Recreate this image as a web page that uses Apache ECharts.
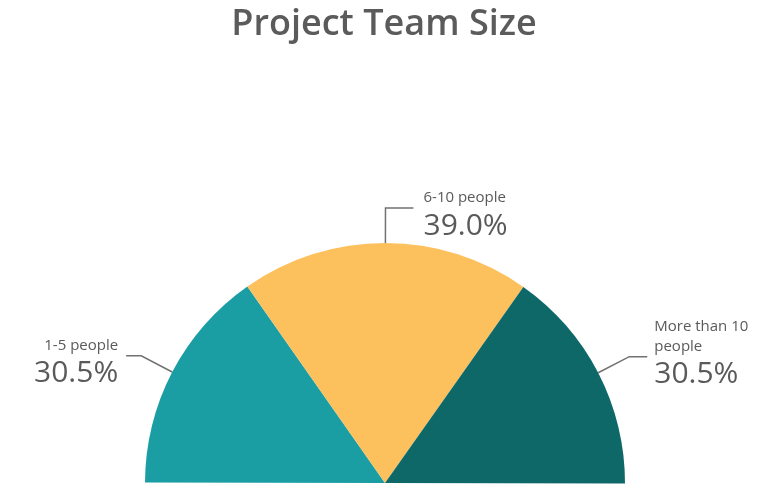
<!DOCTYPE html>
<html>
<head>
<meta charset="utf-8">
<script src="https://cdn.jsdelivr.net/npm/echarts@6/dist/echarts.min.js"></script>
<style>
  html, body { margin: 0; padding: 0; background: #fff; }
  #chart { width: 768px; height: 500px; }
</style>
</head>
<body>
<div id="chart"></div>
<script>
// data
var categories = ['1-5 people', '6-10 people', 'More than 10\npeople'];
var shares = [30.5, 39.0, 30.5];
var colors = ['#1a9ea4', '#fcc15d', '#0e6868'];
var lineTail = [15, 28, 18];   // horizontal part of each label line
var textGap = [8, 10, 7];

var NAME_LH = 20, VALUE_LH = 36;

var chart = echarts.init(document.getElementById('chart'));

var items = [];
for (var i = 0; i < categories.length; i++) {
    var nLines = categories[i].split('\n').length;
    items.push({
        name: categories[i],
        value: shares[i],
        itemStyle: { color: colors[i] },
        label: {
            distanceToLabelLine: textGap[i],
            align: i === 0 ? 'right' : 'left',
            // line end sits between the name and the percentage
            offset: [0, (VALUE_LH - NAME_LH * nLines) / 2]
        },
        labelLine: { length2: lineTail[i] }
    });
}

var option = {
    animation: false,
    title: {
        text: 'Project Team Size',
        left: 'center',
        top: 2,
        textStyle: {
            fontFamily: 'Open Sans',
            fontWeight: 600,
            fontSize: 36,
            color: '#5b5b5b'
        }
    },
    series: [{
        type: 'pie',
        center: [385, 483],
        radius: [0, 240],
        // tiny tilt keeps the top label on the right of its line
        startAngle: 179.9,
        endAngle: -0.1,
        clockwise: true,
        silent: true,
        avoidLabelOverlap: false,
        label: {
            show: true,
            position: 'outside',
            fontFamily: 'Open Sans',
            color: '#5a5a5a',
            formatter: function (p) {
                return '{n|' + p.name.split('\n').join('}\n{n|') + '}\n{v|' + p.value.toFixed(1) + '%}';
            },
            rich: {
                n: { fontFamily: 'Open Sans', fontSize: 15, lineHeight: NAME_LH, color: '#5a5a5a' },
                v: { fontFamily: 'Open Sans', fontSize: 30, lineHeight: VALUE_LH, color: '#5a5a5a' }
            }
        },
        labelLine: {
            show: true,
            length: 35,
            smooth: false,
            lineStyle: { color: '#717171', width: 1.5 }
        },
        data: items
    }]
};

chart.setOption(option);
</script>
</body>
</html>
